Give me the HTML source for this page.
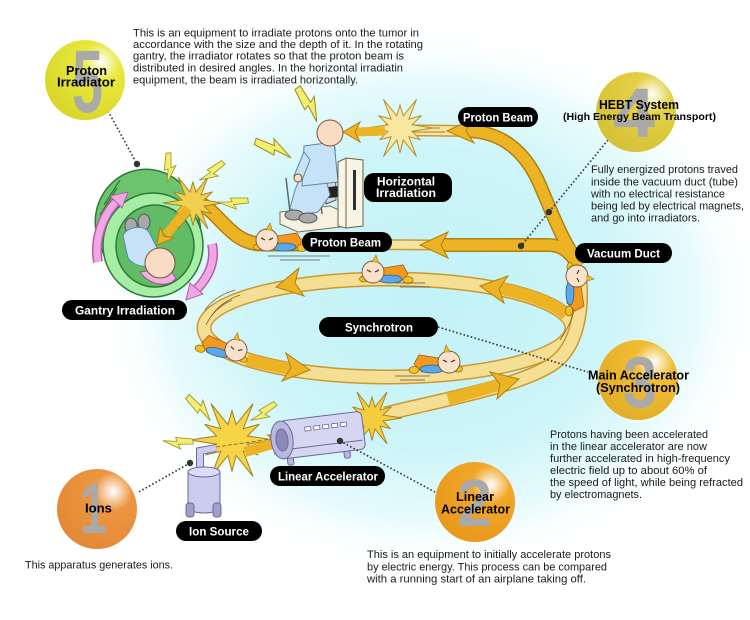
<!DOCTYPE html>
<html><head><meta charset="utf-8"><style>
html,body{margin:0;padding:0;background:#fff;}
svg{display:block;}
text{font-family:"Liberation Sans",Arial,sans-serif;}
</style></head><body>
<svg width="750" height="620" viewBox="0 0 750 620" xmlns="http://www.w3.org/2000/svg">
<defs>
 <radialGradient id="bg" cx="0.5" cy="0.5" r="0.5">
  <stop offset="0" stop-color="#c2f2f7"/>
  <stop offset="0.55" stop-color="#cdf5f9"/>
  <stop offset="0.8" stop-color="#e8fbfc"/>
  <stop offset="1" stop-color="#ffffff" stop-opacity="0"/>
 </radialGradient>
 <radialGradient id="g5" cx="0.7" cy="0.28" r="0.75"><stop offset="0" stop-color="#ffffff"/><stop offset="0.32" stop-color="#e8e83e"/><stop offset="1" stop-color="#d9d72a"/></radialGradient>
 <radialGradient id="g4" cx="0.7" cy="0.28" r="0.75"><stop offset="0" stop-color="#ffffff"/><stop offset="0.32" stop-color="#e3d044"/><stop offset="1" stop-color="#d6c238"/></radialGradient>
 <radialGradient id="g3" cx="0.7" cy="0.28" r="0.75"><stop offset="0" stop-color="#ffffff"/><stop offset="0.32" stop-color="#efbd34"/><stop offset="1" stop-color="#e4ae28"/></radialGradient>
 <radialGradient id="g2" cx="0.7" cy="0.28" r="0.75"><stop offset="0" stop-color="#ffffff"/><stop offset="0.32" stop-color="#f2a628"/><stop offset="1" stop-color="#e9991c"/></radialGradient>
 <radialGradient id="g1" cx="0.7" cy="0.28" r="0.75"><stop offset="0" stop-color="#ffffff"/><stop offset="0.32" stop-color="#ec9642"/><stop offset="1" stop-color="#e48a36"/></radialGradient>
 <polygon id="star" points="100,0 36.7,9.8 60.6,35 26.9,26.9 50,86.6 9.8,36.7 0,75 -9.8,36.7 -50,86.6 -26.9,26.9 -60.6,35 -36.7,9.8 -100,0 -36.7,-9.8 -65,-37.5 -26.9,-26.9 -50,-86.6 -9.8,-36.7 0,-70 9.8,-36.7 50,-86.6 26.9,-26.9 65,-37.5 36.7,-9.8"/>
 <polygon id="bolt" points="0,-3 15,-2 13,-7 30,3 16,1 17,5 0,2" fill="#f2ee70" stroke="#a09020" stroke-width="0.8"/>
 <g id="kid">
  <path d="M4,-3 L30,-7 L35,2 L27,10 L8,8 Z" fill="#f39a1e" stroke="#a06010" stroke-width="0.8"/>
  <ellipse cx="17" cy="7" rx="12" ry="4" fill="#5aa8e8" stroke="#2a6090" stroke-width="0.8"/>
  <ellipse cx="35" cy="8" rx="5" ry="3.5" fill="#f2c020" stroke="#a07010" stroke-width="0.8"/>
  <ellipse cx="-9" cy="7" rx="4.5" ry="3" fill="#f2c020" stroke="#a07010" stroke-width="0.8"/>
  <circle r="11" fill="#f8e2cc" stroke="#805030" stroke-width="0.9"/>
  <path d="M-1,-10 L3,-17 L5,-10 Z" fill="#f2c020" stroke="#a07010" stroke-width="0.6"/>
  <path d="M-6,-2 L-2,0 M2,0 L6,-2" stroke="#402010" stroke-width="1"/>
 </g>
</defs>

<rect width="750" height="620" fill="#fff"/>
<ellipse cx="430" cy="300" rx="335" ry="275" fill="url(#bg)"/>

<!-- synchrotron ring -->
<ellipse cx="388" cy="328" rx="184" ry="49" fill="none" stroke="#c99a2e" stroke-width="15"/>
<ellipse cx="388" cy="328" rx="184" ry="49" fill="none" stroke="#f5df94" stroke-width="12"/>
<path d="M500 288.5 A184 49 0 0 1 566 315" stroke="#ecb424" stroke-width="12" fill="none"/>
<path d="M247 359.5 A184 49 0 0 0 292 369" stroke="#ecb424" stroke-width="12" fill="none"/>
<path d="M205 310 Q215 296 235 290 M210 318 Q220 302 240 295 M206 325 Q214 308 232 300" stroke="#806020" stroke-width="0.8" fill="none"/>

<!-- outer strand from linac -->
<path d="M385 414 C450 398 530 384 558 360 C580 340 584 300 578 268" fill="none" stroke="#c99a2e" stroke-width="15"/>
<path d="M385 414 C450 398 530 384 558 360 C580 340 584 300 578 268" fill="none" stroke="#f5df94" stroke-width="12"/>
<path d="M448 399 Q478 391 505 383" stroke="#ecb424" stroke-width="12" fill="none"/>
<path d="M560 340 Q574 320 576 300" stroke="#806020" stroke-width="0.8" fill="none"/>

<!-- ring arrowheads -->
<g fill="#ecb424" stroke="#b08010" stroke-width="1">
 <polygon points="276,287 299,268 295,283 304,296"/>
 <polygon points="480,286 508,276 499,289 504,303"/>
 <polygon points="310,370 286,353 291,368 282,381"/>
 <polygon points="519,379 490,372 500,384 497,399"/>
</g>

<!-- HEBT duct -->
<path d="M385 130 L466 131" stroke="#c99a2e" stroke-width="12" fill="none"/>
<path d="M385 130 L466 131" stroke="#f6e4a2" stroke-width="9" fill="none"/>
<path d="M405 128 L440 128 M410 132 L445 132" stroke="#806020" stroke-width="0.8"/>
<path d="M298 244 L441 245" stroke="#c99a2e" stroke-width="11" fill="none"/>
<path d="M298 244 L441 245" stroke="#f6e4a2" stroke-width="8" fill="none"/>
<path d="M466 131 C500 131 525 150 540 185 C552 213 562 240 580 266" stroke="#b08010" stroke-width="14" fill="none"/>
<path d="M441 245 L548 245 C560 245 568 250 576 262" stroke="#b08010" stroke-width="14" fill="none"/>
<path d="M466 131 C500 131 525 150 540 185 C552 213 562 240 580 266" stroke="#ecb424" stroke-width="11" fill="none"/>
<path d="M441 245 L548 245 C560 245 568 250 576 262" stroke="#ecb424" stroke-width="11" fill="none"/>
<g fill="#ecb424" stroke="#b08010" stroke-width="1">
 <polygon points="447,131 472,119 466,131 474,143"/>
 <polygon points="420,245 448,232 441,245 448,258"/>
</g>

<!-- beam to gantry -->
<path d="M300 244 L262 244 C240 244 228 228 215 215 C205 205 195 200 188 198" stroke="#b08010" stroke-width="15" fill="none"/>
<path d="M300 244 L262 244 C240 244 228 228 215 215 C205 205 195 200 188 198" stroke="#ecb424" stroke-width="12" fill="none"/>
<path d="M268 256 L330 256 M280 260 L320 260" stroke="#555" stroke-width="0.8"/>

<!-- gantry -->
<g stroke="#2e7a32" stroke-width="3">
 <ellipse cx="146" cy="222" rx="50" ry="52"/>
 <ellipse cx="150" cy="233" rx="50" ry="52"/>
</g>
<g fill="#6cc46e">
 <ellipse cx="146" cy="222" rx="50" ry="52"/>
 <ellipse cx="150" cy="233" rx="50" ry="52"/>
</g>
<path d="M104 205 L120 180 M100 215 L117 188 M99 225 L114 196" stroke="#2e7a32" stroke-width="1.2"/>
<ellipse cx="153" cy="245" rx="50" ry="52" fill="#a6eea6" stroke="#2e7a32" stroke-width="1.5"/>
<ellipse cx="155" cy="246" rx="39" ry="41" fill="#62bc66" stroke="#2e7a32" stroke-width="1.5"/>
<!-- gantry patient -->
<ellipse cx="131" cy="226" rx="6" ry="8" fill="#a8a8a8" stroke="#555"/>
<ellipse cx="144" cy="222" rx="6" ry="8" fill="#a8a8a8" stroke="#555"/>
<path d="M123 236 C126 226 146 224 150 234 L162 258 C152 270 136 268 128 258 Z" fill="#c6e2f6" stroke="#5a88aa"/>
<path d="M140 272 C150 286 170 288 176 278 L168 268 Z" fill="#f0b0e0" stroke="#a05090"/>
<circle cx="160" cy="263" r="15" fill="#f8dcc4" stroke="#805030"/>
<!-- pink arrows -->
<path d="M98 262 C94 240 102 215 118 200" stroke="#b060a0" stroke-width="10" fill="none"/>
<path d="M98 262 C94 240 102 215 118 200" stroke="#f2a6e6" stroke-width="7" fill="none"/>
<polygon points="128,192 110,196 122,208" fill="#f2a6e6" stroke="#b060a0"/>
<path d="M212 244 C216 262 208 278 196 290" stroke="#b060a0" stroke-width="10" fill="none"/>
<path d="M212 244 C216 262 208 278 196 290" stroke="#f2a6e6" stroke-width="7" fill="none"/>
<polygon points="186,300 190,283 203,294" fill="#f2a6e6" stroke="#b060a0"/>

<!-- stars -->
<use href="#star" transform="translate(400,128) scale(0.33)" fill="#f7e7a0" stroke="#b09030" stroke-width="3"/>
<use href="#star" transform="translate(193,203) scale(0.3)" fill="#f2cf50" stroke="#a08020" stroke-width="3"/>
<use href="#star" transform="translate(372,418) scale(0.3)" fill="#f4cc3c" stroke="#a08020" stroke-width="3"/>
<use href="#star" transform="translate(232,440) scale(0.42)" fill="#f5d448" stroke="#a08020" stroke-width="2.4"/>

<!-- small gold arrows -->
<path d="M385 131 L355 132" stroke="#ecb424" stroke-width="9"/>
<polygon points="343,132 360,122 355,132 360,142" fill="#ecb424" stroke="#b08010"/>
<path d="M188 208 L166 235" stroke="#ecb424" stroke-width="9"/>
<polygon points="157,245 160,227 164,236 174,238" fill="#ecb424" stroke="#b08010"/>

<!-- horizontal irradiation patient -->
<path d="M280 212 L330 206 L348 214 L348 226 L298 232 L280 224 Z" fill="#f6f2e2" stroke="#807050"/>
<path d="M325 150 L335 148 L336 200 L326 204 Z" fill="#d8d8d8" stroke="#555"/>
<path d="M300 190 L338 186 L338 197 L302 201 Z" fill="#222"/>
<path d="M286 178 L290 212 M318 180 L322 214" stroke="#666" stroke-width="1.5"/>
<path d="M300 178 L325 175 L330 195 L318 212 L300 215 L290 208 L295 190 Z" fill="#c6e2f6" stroke="#5a88aa"/>
<path d="M304 146 L334 142 L338 182 L302 186 Z" fill="#c6e2f6" stroke="#5a88aa"/>
<path d="M304 152 L294 176 L302 180 L310 160 Z" fill="#c6e2f6" stroke="#5a88aa"/>
<ellipse cx="294" cy="215" rx="9" ry="5" fill="#aaa" stroke="#555"/>
<ellipse cx="308" cy="218" rx="9" ry="5" fill="#aaa" stroke="#555"/>
<circle cx="298" cy="178" r="4" fill="#f8dcc4" stroke="#805030"/>
<path d="M338 162 L346 158 L363 160 L363 226 L346 228 L338 226 Z" fill="#f8f5e6" stroke="#706040"/>
<line x1="346" y1="158" x2="346" y2="228" stroke="#706040"/>
<rect x="353" y="170" width="3" height="40" fill="#303030"/>
<circle cx="330" cy="133" r="13" fill="#f8dcc4" stroke="#805030"/>

<!-- ion source -->
<path d="M200 470 L200 451 L216 448" stroke="#6a6a9a" stroke-width="8" fill="none"/>
<path d="M200 470 L200 451 L216 448" stroke="#ccccf0" stroke-width="6" fill="none"/>
<path d="M188 472 L188 510 Q204 516 220 510 L220 472 Z" fill="#ccccf0" stroke="#6a6a9a"/>
<ellipse cx="204" cy="472" rx="16" ry="5" fill="#dcdcf8" stroke="#6a6a9a"/>
<rect x="186" y="503" width="8" height="14" rx="3" fill="#a0a0c8" stroke="#6a6a9a"/>
<rect x="213" y="503" width="8" height="14" rx="3" fill="#a0a0c8" stroke="#6a6a9a"/>
<path d="M216 447 L285 437" stroke="#806020" stroke-width="0.8" stroke-dasharray="4 2"/>
<path d="M245 452 L276 443" stroke="#ecb424" stroke-width="10"/>
<polygon points="288,438 267.6,434.9 275.3,442.7 274.6,453.7" fill="#ecb424" stroke="#b08010"/>

<!-- linac -->
<g transform="rotate(-7 282 440)">
 <rect x="285" y="452" width="6" height="14" rx="2" fill="#b8b8e0" stroke="#6a6a9a"/>
 <rect x="342" y="452" width="6" height="14" rx="2" fill="#b8b8e0" stroke="#6a6a9a"/>
 <rect x="282" y="421" width="82" height="38" rx="5" fill="#d6d6f2" stroke="#6a6a9a"/>
 <line x1="290" y1="450" x2="362" y2="450" stroke="#6a6a9a"/>
 <g fill="#fff" stroke="#6a6a9a" stroke-width="0.8">
  <rect x="306" y="430" width="6" height="4"/><rect x="315" y="430" width="6" height="4"/><rect x="324" y="430" width="6" height="4"/><rect x="333" y="430" width="6" height="4"/><rect x="342" y="430" width="6" height="4"/>
 </g>
 <ellipse cx="282" cy="440" rx="11" ry="19" fill="#b8b8e0" stroke="#6a6a9a"/>
 <ellipse cx="282" cy="440" rx="6" ry="11" fill="#8a8ab8" stroke="#6a6a9a"/>
</g>

<!-- bolts -->
<use href="#bolt" transform="translate(297,88) rotate(54) scale(1.3)"/>
<use href="#bolt" transform="translate(255,142) rotate(18) scale(1.3)"/>
<use href="#bolt" transform="translate(168,153) rotate(86)"/>
<use href="#bolt" transform="translate(223,162) rotate(137)"/>
<use href="#bolt" transform="translate(248,200) rotate(170)"/>
<use href="#bolt" transform="translate(187,397) rotate(40) scale(1.1)"/>
<use href="#bolt" transform="translate(275,403) rotate(139)"/>
<use href="#bolt" transform="translate(193,441) rotate(175)"/>

<!-- kids -->
<use href="#kid" transform="translate(267,240)"/>
<use href="#kid" transform="translate(373,272)"/>
<use href="#kid" transform="translate(236,350) rotate(15) scale(-1,1)"/>
<use href="#kid" transform="translate(449,362) scale(-1,1)"/>
<use href="#kid" transform="translate(577,276) rotate(90)"/>
<path d="M395 283 L425 283 M400 287 L430 287 M395 376 L430 376 M400 380 L425 380" stroke="#555" stroke-width="0.8"/>

<!-- dotted connectors -->
<g stroke="#333" stroke-width="1.6" stroke-dasharray="1.6 2.2" fill="none">
 <path d="M108 111 L137 164"/>
 <path d="M608 140 L521 246"/>
 <path d="M438 327 L588 372"/>
 <path d="M340 441 L435 492"/>
 <path d="M190 463 L137 493"/>
</g>
<g fill="#333">
 <circle cx="137" cy="164" r="3.2"/><circle cx="521" cy="246" r="3.2"/><circle cx="549" cy="212" r="3.2"/><circle cx="340" cy="441" r="3.2"/><circle cx="190" cy="463" r="3.2"/>
</g>

<!-- pills -->
<g fill="#000">
 <rect x="458" y="107" width="80" height="20" rx="10"/>
 <rect x="364" y="173" width="88" height="29" rx="10"/>
 <rect x="302" y="232" width="90" height="20" rx="10"/>
 <rect x="575" y="243" width="97" height="20" rx="10"/>
 <rect x="62" y="300" width="125" height="20" rx="10"/>
 <rect x="319" y="317" width="119" height="20" rx="10"/>
 <rect x="270" y="466" width="115" height="20" rx="10"/>
 <rect x="176" y="521" width="86" height="20" rx="10"/>
</g>
<g fill="#fff" font-weight="bold" font-size="12">
 <text x="463" y="121.5" textLength="70" lengthAdjust="spacingAndGlyphs">Proton Beam</text>
 <text x="377" y="185.5" textLength="58" lengthAdjust="spacingAndGlyphs">Horizontal</text>
 <text x="376" y="197" textLength="60" lengthAdjust="spacingAndGlyphs">Irradiation</text>
 <text x="310" y="246.5" textLength="71" lengthAdjust="spacingAndGlyphs">Proton Beam</text>
 <text x="587" y="257.5" textLength="73" lengthAdjust="spacingAndGlyphs">Vacuum Duct</text>
 <text x="75" y="314.5" textLength="100" lengthAdjust="spacingAndGlyphs">Gantry Irradiation</text>
 <text x="345" y="331.5" textLength="68" lengthAdjust="spacingAndGlyphs">Synchrotron</text>
 <text x="278" y="480.5" textLength="100" lengthAdjust="spacingAndGlyphs">Linear Accelerator</text>
 <text x="189" y="535.5" textLength="60" lengthAdjust="spacingAndGlyphs">Ion Source</text>
</g>

<!-- numbered circles -->
<circle cx="85" cy="80" r="40" fill="url(#g5)"/>
<circle cx="636" cy="112" r="40" fill="url(#g4)"/>
<circle cx="638" cy="380" r="40" fill="url(#g3)"/>
<circle cx="475" cy="502" r="40" fill="url(#g2)"/>
<circle cx="97" cy="509" r="40" fill="url(#g1)"/>
<g fill="#a9a9a9" font-weight="bold">
 <text x="72" y="112" font-size="89" textLength="31" lengthAdjust="spacingAndGlyphs">5</text>
 <text x="613" y="137" font-size="70" textLength="42" lengthAdjust="spacingAndGlyphs">4</text>
 <text x="623" y="407" font-size="72" textLength="34" lengthAdjust="spacingAndGlyphs">3</text>
 <text x="457" y="526" font-size="67" textLength="35" lengthAdjust="spacingAndGlyphs">2</text>
 <text x="80" y="533" font-size="71" textLength="27" lengthAdjust="spacingAndGlyphs">1</text>
</g>
<g fill="#000" font-weight="bold" font-size="13">
 <text x="66" y="75" textLength="41" lengthAdjust="spacingAndGlyphs">Proton</text>
 <text x="57" y="86.7" textLength="58" lengthAdjust="spacingAndGlyphs">Irradiator</text>
 <text x="599" y="109" textLength="80" lengthAdjust="spacingAndGlyphs">HEBT System</text>
 <text x="563" y="120" font-size="10.5" textLength="153" lengthAdjust="spacingAndGlyphs">(High Energy Beam Transport)</text>
 <text x="588" y="379.5" textLength="101" lengthAdjust="spacingAndGlyphs">Main Accelerator</text>
 <text x="596" y="392" textLength="84" lengthAdjust="spacingAndGlyphs">(Synchrotron)</text>
 <text x="456" y="501" textLength="38" lengthAdjust="spacingAndGlyphs">Linear</text>
 <text x="441" y="513.5" textLength="69" lengthAdjust="spacingAndGlyphs">Accelerator</text>
 <text x="85" y="512.7" textLength="27" lengthAdjust="spacingAndGlyphs">Ions</text>
</g>

<!-- descriptions -->
<g fill="#1a1a1a" font-size="11">
 <text x="133" y="36.3" textLength="286" lengthAdjust="spacingAndGlyphs">This is an equipment to irradiate protons onto the tumor in</text>
 <text x="133" y="48" textLength="290" lengthAdjust="spacingAndGlyphs">accordance with the size and the depth of it. In the rotating</text>
 <text x="133" y="59.7" textLength="271" lengthAdjust="spacingAndGlyphs">gantry, the irradiator rotates so that the proton beam is</text>
 <text x="133" y="71.5" textLength="270" lengthAdjust="spacingAndGlyphs">distributed in desired angles. In the horizontal irradiatin</text>
 <text x="133" y="83.3" textLength="225" lengthAdjust="spacingAndGlyphs">equipment, the beam is irradiated horizontally.</text>

 <text x="591" y="173" textLength="147" lengthAdjust="spacingAndGlyphs">Fully energized protons traved</text>
 <text x="591" y="185.5" textLength="147" lengthAdjust="spacingAndGlyphs">inside the vacuum duct (tube)</text>
 <text x="591" y="197.5" textLength="134" lengthAdjust="spacingAndGlyphs">with no electrical resistance</text>
 <text x="591" y="209.5" textLength="153" lengthAdjust="spacingAndGlyphs">being led by electrical magnets,</text>
 <text x="591" y="221.5" textLength="109" lengthAdjust="spacingAndGlyphs">and go into irradiators.</text>

 <text x="550" y="438" textLength="158" lengthAdjust="spacingAndGlyphs">Protons having been accelerated</text>
 <text x="550" y="450" textLength="157" lengthAdjust="spacingAndGlyphs">in the linear accelerator are now</text>
 <text x="550" y="462" textLength="180" lengthAdjust="spacingAndGlyphs">further accelerated in high-frequency</text>
 <text x="550" y="474" textLength="157" lengthAdjust="spacingAndGlyphs">electric field up to about 60% of</text>
 <text x="550" y="486" textLength="193" lengthAdjust="spacingAndGlyphs">the speed of light, while being refracted</text>
 <text x="550" y="498" textLength="92" lengthAdjust="spacingAndGlyphs">by electromagnets.</text>

 <text x="367" y="558" textLength="244" lengthAdjust="spacingAndGlyphs">This is an equipment to initially accelerate protons</text>
 <text x="367" y="570.3" textLength="240" lengthAdjust="spacingAndGlyphs">by electric energy. This process can be compared</text>
 <text x="367" y="582.3" textLength="219" lengthAdjust="spacingAndGlyphs">with a running start of an airplane taking off.</text>

 <text x="25" y="568.7" textLength="148" lengthAdjust="spacingAndGlyphs">This apparatus generates ions.</text>
</g>
</svg>
</body></html>
